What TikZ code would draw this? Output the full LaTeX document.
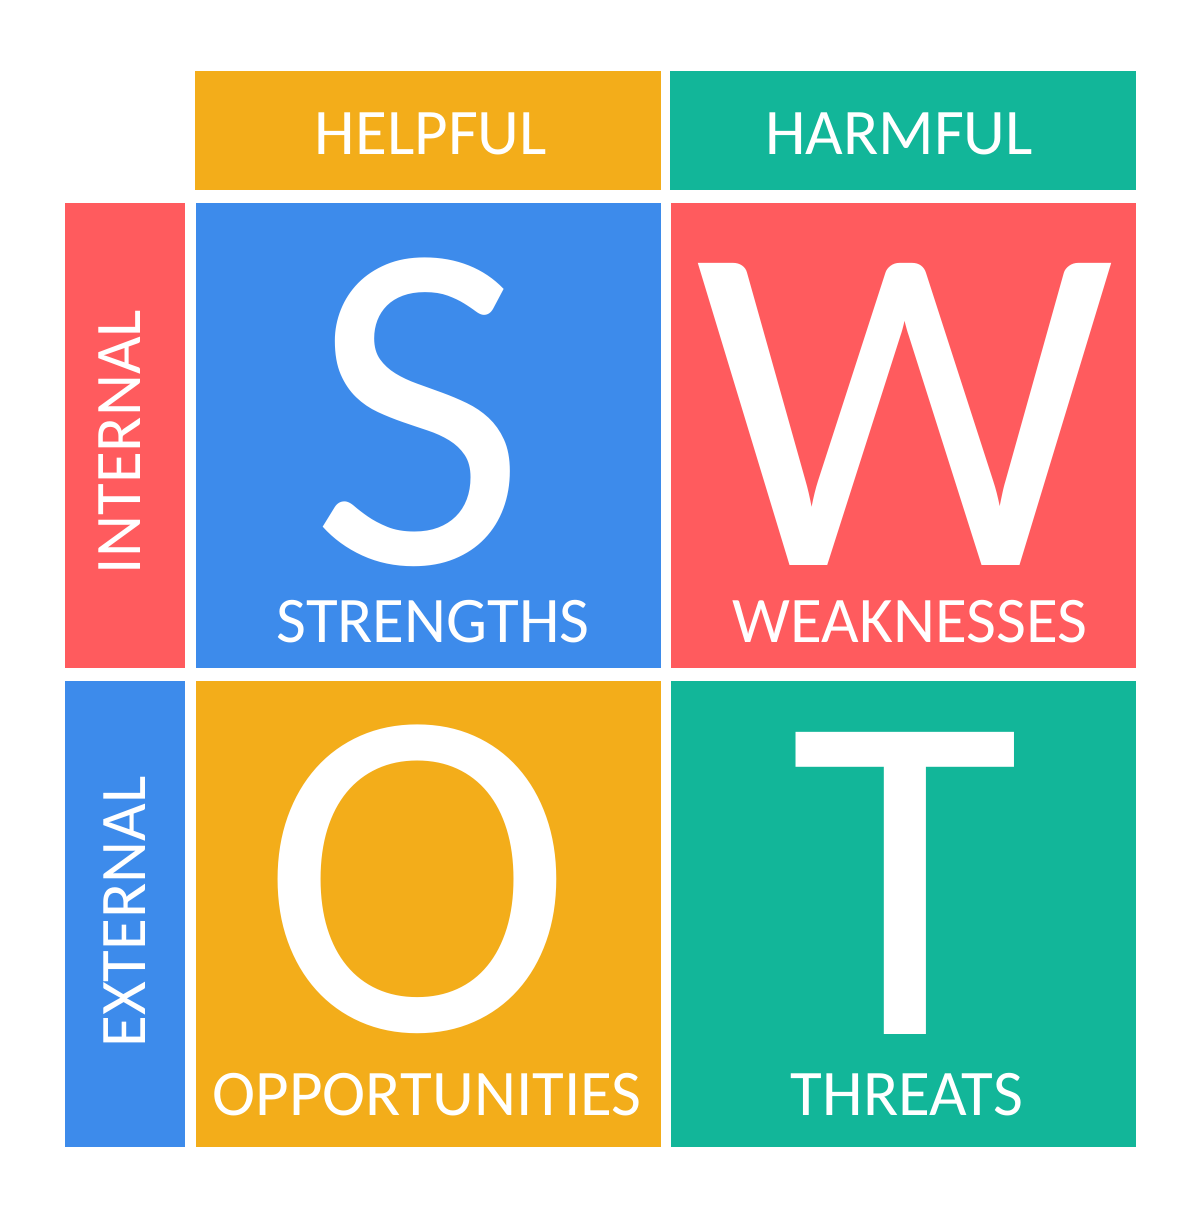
\documentclass[tikz,border=0pt]{standalone}
\usepackage{fontspec}
\setmainfont{Carlito}
\usepackage{tikz}
\definecolor{swotorange}{HTML}{F3AD1A}
\definecolor{swotteal}{HTML}{12B699}
\definecolor{swotred}{HTML}{FF5B5E}
\definecolor{swotblue}{HTML}{3D8BEB}
\tikzset{bigletter/.style = {text=white, anchor=base, inner sep=0,
                             font=\fontsize{134pt}{135pt}\selectfont}}
\tikzset{caption/.style = {text=white, anchor=base, inner sep=0,
                           font=\fontsize{18.5pt}{22pt}\selectfont}}
\tikzset{sidecaption/.style = {caption, rotate=90}}

\begin{document}
\begin{tikzpicture}[x=0.1mm, y=-0.1mm]
      \useasboundingbox (0, 0) rectangle (1200, 1218);

      % header and side cells
      \fill [swotorange] (195, 71) rectangle (661, 190);
      \fill [swotteal] (670, 71) rectangle (1136, 190);
      \fill [swotred] (65, 203) rectangle (185, 668);
      \fill [swotblue] (65, 681) rectangle (185, 1147);

      % the four quadrants
      \fill [swotblue] (196, 203) rectangle (661, 668);
      \fill [swotred] (671, 203) rectangle (1136, 668);
      \fill [swotorange] (196, 681) rectangle (661, 1147);
      \fill [swotteal] (671, 681) rectangle (1136, 1147);

      % headings
      \node [caption] (helpful) at (431, 155) {HELPFUL};
      \node [caption] (harmful) at (899, 155) {HARMFUL};
      \node [sidecaption] (internal) at (140, 442) {INTERNAL};
      \node [sidecaption] (external) at (145, 912) {EXTERNAL};

      % letters
      \node [bigletter] (S) at (419, 564) {S};
      \node [bigletter] (W) at (905, 566) {W};
      \node [bigletter] (O) at (417, 1030) {O};
      \node [bigletter] (T) at (905, 1034) {T};

      % names under the letters
      \node [caption] (strengths) at (433, 642) {STRENGTHS};
      \node [caption] (weaknesses) at (910, 642) {WEAKNESSES};
      \node [caption] (opportunities) at (427, 1115) {OPPORTUNITIES};
      \node [caption] (threats) at (907, 1115) {THREATS};
    \end{tikzpicture}
\end{document}
